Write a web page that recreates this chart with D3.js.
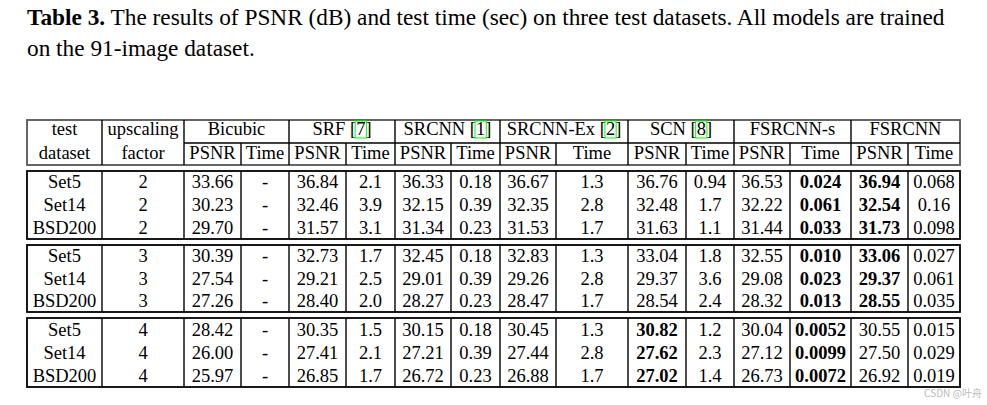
<!DOCTYPE html>
<html><head><meta charset="utf-8">
<script src="https://cdn.jsdelivr.net/npm/d3@7"></script>
<style>body{margin:0;background:#fff}text{font-family:"Liberation Serif","Times New Roman",serif;fill:#000}</style>
</head><body><svg id="c" width="987" height="405"></svg>
<script>
const datasets=["Set5","Set14","BSD200"];
const factors=[2,3,4];
const methods=["Bicubic","SRF","SRCNN","SRCNN-Ex","SCN","FSRCNN-s","FSRCNN"];
const cites=[null,"7","1","2","8",null,null];
const psnr={
 "Bicubic":["33.66","30.23","29.70","30.39","27.54","27.26","28.42","26.00","25.97"],
 "SRF":["36.84","32.46","31.57","32.73","29.21","28.40","30.35","27.41","26.85"],
 "SRCNN":["36.33","32.15","31.34","32.45","29.01","28.27","30.15","27.21","26.72"],
 "SRCNN-Ex":["36.67","32.35","31.53","32.83","29.26","28.47","30.45","27.44","26.88"],
 "SCN":["36.76","32.48","31.63","33.04","29.37","28.54","30.82","27.62","27.02"],
 "FSRCNN-s":["36.53","32.22","31.44","32.55","29.08","28.32","30.04","27.12","26.73"],
 "FSRCNN":["36.94","32.54","31.73","33.06","29.37","28.55","30.55","27.50","26.92"]};
const times={
 "Bicubic":["-","-","-","-","-","-","-","-","-"],
 "SRF":["2.1","3.9","3.1","1.7","2.5","2.0","1.5","2.1","1.7"],
 "SRCNN":["0.18","0.39","0.23","0.18","0.39","0.23","0.18","0.39","0.23"],
 "SRCNN-Ex":["1.3","2.8","1.7","1.3","2.8","1.7","1.3","2.8","1.7"],
 "SCN":["0.94","1.7","1.1","1.8","3.6","2.4","1.2","2.3","1.4"],
 "FSRCNN-s":["0.024","0.061","0.033","0.010","0.023","0.013","0.0052","0.0099","0.0072"],
 "FSRCNN":["0.068","0.16","0.098","0.027","0.061","0.035","0.015","0.029","0.019"]};
const boldPsnr={"SCN":[6,7,8],"FSRCNN":[0,1,2,3,4,5]};
const boldTime={"FSRCNN-s":[0,1,2,3,4,5,6,7,8]};

const svg=d3.select("#c");
const colKeys=["ds","f"];methods.forEach(m=>{colKeys.push(m+"|P");colKeys.push(m+"|T");});
const bounds=[27,102,184,241,289,346,395,451,500,556,628,686,734,790,851,908,960];
const xL=d3.scaleOrdinal().domain(colKeys).range(bounds.slice(0,-1));
const xR=d3.scaleOrdinal().domain(colKeys).range(bounds.slice(1));
const xc=k=>(xL(k)+xR(k))/2;
const blocks=[[171,239],[245,312],[318,387]];
const yRow=i=>{const b=blocks[Math.floor(i/3)];return d3.scaleLinear().domain([0,3]).range(b)(i%3+0.5);};

const t=svg.append("g").style("font-size","23.3px");
const l1=t.append("text").attr("x",27).attr("y",25);
l1.append("tspan").attr("font-weight","bold").text("Table 3.");
l1.append("tspan").text(" The results of PSNR (dB) and test time (sec) on three test datasets. All models are trained");
t.append("text").attr("x",27).attr("y",56).text("on the 91-image dataset.");

const lines=svg.append("g").attr("stroke","#000").attr("stroke-width",1.4).attr("fill","none");
lines.append("rect").attr("x",27).attr("y",120).attr("width",933).attr("height",45).attr("stroke","#555").attr("stroke-width",1.8);
lines.append("line").attr("x1",184).attr("x2",960).attr("y1",143).attr("y2",143);
bounds.slice(1,-1).forEach((b,i)=>{
  const full=(i<2)||((i-2)%2===1);
  lines.append("line").attr("x1",b).attr("x2",b).attr("y1",full?120:143).attr("y2",165);
});
blocks.forEach(([y0,y1])=>{
  lines.append("rect").attr("x",27).attr("y",y0).attr("width",933).attr("height",y1-y0).attr("stroke-width",1.8);
  bounds.slice(1,-1).forEach(b=>lines.append("line").attr("x1",b).attr("x2",b).attr("y1",y0).attr("y2",y1));
});

const g=svg.append("g").style("font-size","18.5px").attr("text-anchor","middle");
const h1=135,h2=159;
g.append("text").attr("x",xc("ds")).attr("y",h1).text("test");
g.append("text").attr("x",xc("ds")).attr("y",h2).text("dataset");
g.append("text").attr("x",xc("f")).attr("y",h1).text("upscaling");
g.append("text").attr("x",xc("f")).attr("y",h2).text("factor");
methods.forEach((m,i)=>{
  const cx=(xL(m+"|P")+xR(m+"|T"))/2;
  const tx=g.append("text").attr("x",cx).attr("y",h1);
  tx.append("tspan").text(m+(cites[i]?" [":""));
  if(cites[i]){tx.append("tspan").attr("class","cite").text(cites[i]);tx.append("tspan").text("]");}
  g.append("text").attr("x",xc(m+"|P")).attr("y",h2).text("PSNR");
  g.append("text").attr("x",xc(m+"|T")).attr("y",h2).text("Time");
});
svg.selectAll("tspan.cite").nodes().forEach(n=>{
  const ext=n.getExtentOfChar(0);
  svg.append("rect").attr("x",ext.x-1).attr("y",ext.y+2).attr("width",ext.width+2).attr("height",ext.height-3)
   .attr("fill","none").attr("stroke","#0f0").attr("stroke-width",1);
});
for(let i=0;i<9;i++){
  const y=yRow(i)+6;
  g.append("text").attr("x",xc("ds")).attr("y",y).text(datasets[i%3]);
  g.append("text").attr("x",xc("f")).attr("y",y).text(factors[Math.floor(i/3)]);
  methods.forEach(m=>{
    g.append("text").attr("x",xc(m+"|P")).attr("y",y).attr("font-weight",(boldPsnr[m]||[]).includes(i)?"bold":null).text(psnr[m][i]);
    g.append("text").attr("x",xc(m+"|T")).attr("y",y).attr("font-weight",(boldTime[m]||[]).includes(i)?"bold":null).text(times[m][i]);
  });
}
svg.append("text").attr("x",982).attr("y",397).attr("text-anchor","end").style("font-family","Noto Sans CJK SC").style("font-size","10px").style("fill","#bbb").text("CSDN @叶舟");
</script></body></html>
